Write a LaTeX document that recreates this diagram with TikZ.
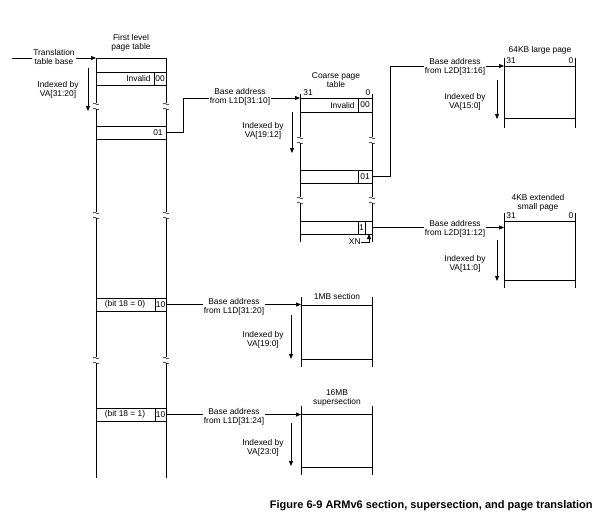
\documentclass[tikz,border=0pt]{standalone}
\usepackage{fontspec}
\setmainfont{Liberation Sans}
\usetikzlibrary{arrows.meta}
\begin{document}
\begin{tikzpicture}[x=1pt,y=-1pt,line width=0.7pt,
  lbl/.style={font=\fontsize{8.4}{9.2}\selectfont,align=center,inner sep=1pt},
  lblw/.style={lbl,fill=white},
  arr/.style={-{Triangle[length=5pt,width=4pt]}},
  ]
\useasboundingbox (0,0) rectangle (600,525);
\newcommand\brk[2]{%
  \fill[white] (#1-4,#2-3) rectangle (#1+4,#2+3);
  \draw[line width=0.5pt] (#1-3,#2-2) .. controls (#1-1,#2-5) and (#1+1,#2+1) .. (#1+3,#2-2);
  \draw[line width=0.5pt] (#1-3,#2+3) .. controls (#1-1,#2) and (#1+1,#2+6) .. (#1+3,#2+3);}
% ---------- first level table
\draw (96,58) -- (166,58);
\draw (96,58) -- (96,478); \draw (166,58) -- (166,478);
\draw (96,72) rectangle (166,85); \draw (154,72) -- (154,85);
\node[lbl,anchor=east] (inv1) at (152,78.5) {Invalid};
\node[lbl] (c00a) at (160,78.5) {00};
\draw (96,126) rectangle (166,139);
\node[lbl,anchor=east] (c01a) at (164,132.5) {01};
\draw (96,298) rectangle (166,311); \draw (155,298) -- (155,311);
\node[lbl] (b0) at (125,304.5) {(bit 18 = 0)};
\node[lbl] (c10a) at (160.5,304.5) {10};
\draw (96,408) rectangle (166,421); \draw (155,408) -- (155,421);
\node[lbl] (b1) at (125,414.5) {(bit 18 = 1)};
\node[lbl] (c10b) at (160.5,414.5) {10};
\foreach \y in {106,215,360} {\brk{96}{\y}\brk{166}{\y}}
\node[lbl] (flt) at (131,43) {First level\\page table};
\coordinate (ttbs) at (12,58); \coordinate (ttbe) at (96,58);
\draw[arr] (ttbs) -- (ttbe);
\node[lblw] (ttb) at (54,57) {Translation\\table base};
\node[lbl] (ix1) at (58,90) {Indexed by\\VA[31:20]};
\coordinate (a1s) at (88,68); \coordinate (a1e) at (88,111);
\draw[arr] (a1s) -- (a1e);
% ---------- coarse table
\draw (300,98) -- (372,98);
\draw (300,94) -- (300,242); \draw (372,94) -- (372,242);
\node[lbl] (t31c) at (308,93) {31}; \node[lbl] (t0c) at (368,93) {0};
\draw (300,98) rectangle (372,112); \draw (358,98) -- (358,112);
\node[lbl,anchor=east] (inv2) at (356,105) {Invalid};
\node[lbl] (c00b) at (365,105) {00};
\draw (300,170) rectangle (372,183); \draw (358,170) -- (358,183);
\node[lbl] (c01b) at (365,176.5) {01};
\draw (300,221) rectangle (372,234); \draw (358,221) -- (358,234); \draw (365,221) -- (365,234);
\node[lbl] (c1) at (361.5,227.5) {1};
\foreach \y in {140,200} {\brk{300}{\y}\brk{372}{\y}}
\node[lbl] (cpt) at (336,80) {Coarse page\\table};
\coordinate (l1a) at (166,132.5); \coordinate (l1b) at (183,98); \coordinate (l1c) at (300,98);
\draw[arr] (l1a) -| (l1b) -- (l1c);
\node[lblw] (ba1) at (240,97) {Base address\\from L1D[31:10]};
\node[lbl] (ix2) at (263,131) {Indexed by\\VA[19:12]};
\coordinate (a2s) at (292,112); \coordinate (a2e) at (292,153);
\draw[arr] (a2s) -- (a2e);
\node[lbl,anchor=east] (xn) at (362,242) {XN};
\coordinate (xns) at (361,242); \coordinate (xne) at (369,234);
\draw[arr,line width=0.5pt] (xns) -| (xne);
% ---------- 64KB
\draw (504,58) -- (504,128); \draw (575,58) -- (575,128);
\draw (504,66) -- (575,66); \draw (504,118) -- (575,118);
\node[lbl,anchor=west] (t31d) at (505,61) {31}; \node[lbl] (t0d) at (571,61) {0};
\node[lbl] (p64) at (540,50) {64KB large page};
\coordinate (l2a) at (372,176.5); \coordinate (l2b) at (390,66); \coordinate (l2c) at (504,66);
\draw[arr] (l2a) -| (l2b) -- (l2c);
\node[lblw] (ba2) at (455,67) {Base address\\from L2D[31:16]};
\node[lbl] (ix3) at (465,102) {Indexed by\\VA[15:0]};
\coordinate (a3s) at (497,80); \coordinate (a3e) at (497,119);
\draw[arr] (a3s) -- (a3e);
% ---------- 4KB
\draw (504,213) -- (504,288); \draw (575,213) -- (575,288);
\draw (504,221) -- (575,221); \draw (504,280) -- (575,280);
\node[lbl,anchor=west] (t31e) at (505,216) {31}; \node[lbl] (t0e) at (571,216) {0};
\node[lbl] (p4) at (538,203) {4KB extended\\small page};
\coordinate (l3a) at (372,227.5); \coordinate (l3c) at (504,227.5);
\draw[arr] (l3a) -- (l3c);
\node[lblw] (ba3) at (455,229) {Base address\\from L2D[31:12]};
\node[lbl] (ix4) at (465,264) {Indexed by\\VA[11:0]};
\coordinate (a4s) at (497,240); \coordinate (a4e) at (497,281);
\draw[arr] (a4s) -- (a4e);
% ---------- 1MB
\draw (301,297) -- (301,367); \draw (372,297) -- (372,367);
\draw (301,305) -- (372,305); \draw (301,359) -- (372,359);
\node[lbl] (p1m) at (337,296) {1MB section};
\coordinate (l4a) at (166,304.5); \coordinate (l4c) at (301,304.5);
\draw[arr] (l4a) -- (l4c);
\node[lblw] (ba4) at (234,307) {Base address\\from L1D[31:20]};
\node[lbl] (ix5) at (263,340) {Indexed by\\VA[19:0]};
\coordinate (a5s) at (291,315); \coordinate (a5e) at (291,359);
\draw[arr] (a5s) -- (a5e);
% ---------- 16MB
\draw (301,406) -- (301,475); \draw (372,406) -- (372,475);
\draw (301,414) -- (372,414); \draw (301,467) -- (372,467);
\node[lbl] (p16m) at (337,398) {16MB\\supersection};
\coordinate (l5a) at (166,414.5); \coordinate (l5c) at (301,414.5);
\draw[arr] (l5a) -- (l5c);
\node[lblw] (ba5) at (234,417) {Base address\\from L1D[31:24]};
\node[lbl] (ix6) at (263,448) {Indexed by\\VA[23:0]};
\coordinate (a6s) at (291,423); \coordinate (a6e) at (291,466);
\draw[arr] (a6s) -- (a6e);
% caption
\node[anchor=east,font=\fontsize{11}{13}\selectfont\bfseries,inner sep=0] (cap) at (593,506) {Figure 6-9 ARMv6 section, supersection, and page translation};
\end{tikzpicture}
\end{document}
